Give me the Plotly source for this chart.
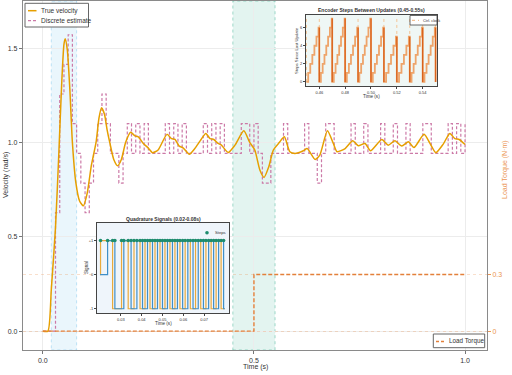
import plotly.graph_objects as go

# ---------------- data ----------------
vel_t = [0.000, 0.012, 0.020, 0.030, 0.038, 0.045, 0.050, 0.053, 0.058, 0.064,
         0.070, 0.078, 0.087, 0.096, 0.105, 0.115, 0.126, 0.133, 0.139, 0.146,
         0.152, 0.159, 0.168, 0.177, 0.186, 0.196, 0.208, 0.218, 0.226, 0.238,
         0.249, 0.260, 0.273, 0.294, 0.305, 0.313, 0.323, 0.332, 0.347, 0.360,
         0.373, 0.386, 0.396, 0.405, 0.415, 0.423, 0.439, 0.455, 0.476, 0.490,
         0.502, 0.514, 0.524, 0.535, 0.546, 0.560, 0.572, 0.585, 0.597, 0.617,
         0.626, 0.645, 0.656, 0.674, 0.688, 0.697, 0.716, 0.734, 0.747, 0.763,
         0.776, 0.803, 0.818, 0.834, 0.850, 0.866, 0.879, 0.903, 0.917, 0.931,
         0.948, 0.964, 0.976, 0.986, 1.000]
vel_v = [0.0, 0.0, 0.22, 0.55, 0.95, 1.33, 1.52, 1.55, 1.49, 1.28,
         1.00, 0.79, 0.69, 0.664, 0.73, 0.88, 1.00, 1.13, 1.184, 1.15,
         1.07, 0.995, 0.91, 0.877, 0.91, 1.00, 1.054, 1.035, 1.03, 0.995,
         0.972, 0.946, 0.96, 1.043, 1.02, 1.016, 0.981, 0.972, 0.938, 0.968,
         1.01, 1.048, 1.02, 1.016, 0.995, 0.986, 0.947, 0.986, 1.062, 1.0,
         0.96, 0.854, 0.815, 0.87, 0.96, 1.0, 1.03, 0.951, 0.942, 0.956,
         0.968, 0.91, 0.933, 1.062, 0.995, 0.951, 0.968, 1.009, 0.983, 0.995,
         0.956, 1.016, 0.986, 1.009, 0.981, 1.004, 0.973, 1.043, 0.995, 0.946,
         0.99, 1.048, 1.02, 1.016, 0.989]

# discrete estimate, one value per 10 ms control update (t = 0.00 ... 1.00)
update_period = 0.01
est_v = [0, 0, 0, 0.628, 1.257, 1.414, 1.571, 1.100, 0.942, 0.785,
         0.628, 0.785, 0.942, 1.100, 1.257, 1.100, 0.942, 0.942, 0.785, 0.942,
         1.100, 0.942, 1.100, 0.942, 1.100, 0.942, 0.942, 0.942, 0.942, 1.100,
         0.942, 1.100, 0.942, 1.100, 0.942, 0.942, 0.942, 0.942, 1.100, 0.942,
         1.100, 0.942, 1.100, 0.942, 0.942, 0.942, 0.942, 1.100, 1.100, 0.942,
         1.100, 0.942, 0.785, 0.785, 0.942, 0.942, 0.942, 1.100, 0.942, 0.942,
         0.942, 0.942, 1.100, 0.942, 0.942, 0.785, 0.942, 1.100, 1.100, 0.942,
         0.942, 0.942, 0.942, 1.100, 0.942, 0.942, 1.100, 0.942, 0.942, 0.942,
         1.100, 0.942, 0.942, 1.100, 0.942, 0.942, 1.100, 0.942, 0.942, 0.942,
         1.100, 1.100, 0.942, 0.942, 0.942, 0.942, 1.100, 0.942, 1.100, 0.942,
         1.100]

torque_t = [0.0, 0.5, 1.0]
torque_v = [0.0, 0.3, 0.3]

band_fast = [0.02, 0.08]
band_load = [0.45, 0.55]

# encoder inset (0.45 - 0.55 s)
enc_ctrl_t = [0.45, 0.46, 0.47, 0.48, 0.49, 0.50, 0.51, 0.52, 0.53, 0.54, 0.55]
enc_step_t = [0.4514, 0.4530, 0.4546, 0.4562, 0.4578, 0.4594,
              0.4612, 0.4626, 0.4640, 0.4654, 0.4668, 0.4682, 0.4696,
              0.4712, 0.4726, 0.4740, 0.4754, 0.4768, 0.4782, 0.4796,
              0.4813, 0.4829, 0.4845, 0.4861, 0.4877, 0.4893,
              0.4910, 0.4924, 0.4938, 0.4952, 0.4966, 0.4980, 0.4994,
              0.5014, 0.5030, 0.5046, 0.5062, 0.5078, 0.5094,
              0.5117, 0.5136, 0.5155, 0.5174, 0.5193,
              0.5217, 0.5236, 0.5255, 0.5274, 0.5293,
              0.5314, 0.5330, 0.5346, 0.5362, 0.5378, 0.5394,
              0.5414, 0.5430, 0.5446, 0.5462, 0.5478, 0.5494]

# quadrature inset (0.02 - 0.08 s): toggle times of channel A and B
quad_window = [0.02, 0.08]
quad_a_t = [0.0202, 0.0260, 0.0303, 0.0335, 0.0363, 0.0392, 0.0416, 0.0440, 0.0464,
            0.0488, 0.0512, 0.0536, 0.0560, 0.0584, 0.0609, 0.0634, 0.0659,
            0.0684, 0.0709, 0.0734, 0.0758, 0.0782]
quad_b_t = [0.0236, 0.0271, 0.0314, 0.0349, 0.0377, 0.0404, 0.0428, 0.0452, 0.0476,
            0.0500, 0.0524, 0.0548, 0.0572, 0.0597, 0.0622, 0.0647, 0.0672,
            0.0697, 0.0722, 0.0746, 0.0770, 0.0794]

# ---------------- style ----------------
FONT = "Liberation Sans, Arial, sans-serif"
W, H = 512, 375
ML, MR, MT, MB = 23, 25, 1, 25
PW, PH = W - ML - MR, H - MT - MB
C_TRUE = '#E69F00'
C_EST = '#CC79A7'
C_TORQ = '#E3803A'
C_TORQ_TXT = '#EB9655'
C_A = '#E9AA3C'
C_B = '#3F8FC8'
C_STEP = '#1E8C6E'


def pxx(x):
    return (x - ML) / PW


def pxy(y):
    return (H - MB - y) / PH


fig = go.Figure()

# ---- main plot ----
est_t = [round(i * update_period, 4) for i in range(len(est_v))]
fig.add_trace(go.Scatter(x=est_t, y=est_v, mode='lines', line=dict(color=C_EST, width=1.2, dash='3px,2px', shape='hv'),
                         xaxis='x', yaxis='y'))
fig.add_trace(go.Scatter(x=vel_t, y=vel_v, mode='lines', line=dict(color=C_TRUE, width=1.5, shape='spline', smoothing=0.6),
                         xaxis='x', yaxis='y'))
fig.add_trace(go.Scatter(x=torque_t, y=torque_v, mode='lines', line=dict(color=C_TORQ, width=1.4, dash='4px,2px', shape='hv'),
                         xaxis='x', yaxis='y2'))

# ---- encoder inset ----
events = sorted([(t, 1) for t in enc_step_t] + [(t, 0) for t in enc_ctrl_t])
sx, sy, dx, dy = [], [], [], []
count = 0
for t, kind in events:
    if kind == 0:
        if count > 0:
            dx += [t, t, None]
            dy += [count, 0, None]
        count = 0
    else:
        count += 1
    sx.append(t)
    sy.append(count)
cx, cy = [], []
for t in enc_ctrl_t:
    cx += [t, t, None]
    cy += [0, 7.3, None]
fig.add_trace(go.Scatter(x=cx, y=cy, mode='lines', line=dict(color='#F4C495', width=1, dash='dot'),
                         xaxis='x3', yaxis='y3'))
fig.add_trace(go.Scatter(x=sx, y=sy, mode='lines', line=dict(color='#EEA46A', width=1.8, shape='hv'),
                         xaxis='x3', yaxis='y3'))
fig.add_trace(go.Scatter(x=dx, y=dy, mode='lines', line=dict(color='#D9621C', width=1.3),
                         xaxis='x3', yaxis='y3'))


# ---- quadrature inset ----
def quad_xy(edges):
    xs, ys = [quad_window[0]], [0]
    val = 0
    for i, t in enumerate(edges):
        val = 1 if i == 0 else -val
        xs.append(t)
        ys.append(val)
    xs.append(quad_window[1])
    ys.append(val)
    return xs, ys


ax_, ay_ = quad_xy(quad_a_t)
bx_, by_ = quad_xy(quad_b_t)
fig.add_trace(go.Scatter(x=ax_, y=ay_, mode='lines', line=dict(color=C_A, width=1.2, shape='hv'),
                         xaxis='x4', yaxis='y4'))
fig.add_trace(go.Scatter(x=bx_, y=by_, mode='lines', line=dict(color=C_B, width=1.2, shape='hv'),
                         xaxis='x4', yaxis='y4'))
all_edges = sorted(quad_a_t + quad_b_t)
fig.add_trace(go.Scatter(x=all_edges, y=[1] * len(all_edges), mode='markers',
                         marker=dict(color=C_STEP, size=3.6), xaxis='x4', yaxis='y4'))

# ---- axes ----
tickfont = dict(family=FONT, size=7, color='#333')
small = dict(family=FONT, size=4, color='#333')
enc_dom_x = [pxx(306), pxx(437)]
enc_dom_y = [pxy(86), pxy(15)]
quad_dom_x = [pxx(97), pxx(229)]
quad_dom_y = [pxy(313), pxy(223)]
enc_xr = [0.4497, 0.5511]
enc_yr = [-0.45, 7.4]
quad_xr = [0.0185, 0.082]
quad_yr = [-1.124, 1.515]

fig.update_layout(
    template='none', width=W, height=H, showlegend=False, autosize=False,
    margin=dict(l=ML, r=MR, t=MT, b=MB, pad=0),
    paper_bgcolor='white', plot_bgcolor='white',
    font=dict(family=FONT, size=7, color='#333'),
    xaxis=dict(domain=[0, 1], anchor='y', range=[-0.047, 1.052], tickvals=[0, 0.5, 1.0],
               ticktext=['0.0', '0.5', '1.0'], ticks='outside', ticklen=3, tickcolor='#777',
               showline=True, mirror=True, linecolor='#8a8a8a', linewidth=1.3,
               showgrid=True, gridcolor='#ececec', gridwidth=1, zeroline=False, tickfont=tickfont),
    yaxis=dict(domain=[0, 1], anchor='x', range=[-0.1, 1.75], tickvals=[0, 0.5, 1.0, 1.5],
               ticktext=['0.0', '0.5', '1.0', '1.5'], ticks='outside', ticklen=3, tickcolor='#777',
               showline=True, mirror=True, linecolor='#8a8a8a', linewidth=1.3,
               showgrid=True, gridcolor='#ececec', gridwidth=1, zeroline=False, tickfont=tickfont),
    yaxis2=dict(overlaying='y', side='right', anchor='x', range=[-0.1, 1.75], tickvals=[0, 0.3],
                ticktext=['0', '0.3'], ticks='outside', ticklen=3, tickcolor=C_TORQ_TXT,
                tickfont=dict(family=FONT, size=7, color=C_TORQ_TXT), showline=False,
                showgrid=True, gridcolor='rgba(235,150,85,0.3)', griddash='dot', zeroline=False),
    xaxis3=dict(domain=enc_dom_x, anchor='y3', range=enc_xr, tickvals=[0.46, 0.48, 0.50, 0.52, 0.54],
                ticktext=['0.46', '0.48', '0.50', '0.52', '0.54'], ticks='outside', ticklen=2,
                tickcolor='#444', showline=True, mirror=True, linecolor='#444', linewidth=1,
                showgrid=False, zeroline=False, tickfont=small),
    yaxis3=dict(domain=enc_dom_y, anchor='x3', range=enc_yr, tickvals=[0, 2, 4, 6],
                ticks='outside', ticklen=2, tickcolor='#444', showline=True, mirror=True,
                linecolor='#444', linewidth=1, showgrid=False, zeroline=False, tickfont=small),
    xaxis4=dict(domain=quad_dom_x, anchor='y4', range=quad_xr, tickvals=[0.03, 0.04, 0.05, 0.06, 0.07],
                ticktext=['0.03', '0.04', '0.05', '0.06', '0.07'], ticks='outside', ticklen=2,
                tickcolor='#444', showline=True, mirror=True, linecolor='#444', linewidth=1,
                showgrid=False, zeroline=False, tickfont=small),
    yaxis4=dict(domain=quad_dom_y, anchor='x4', range=quad_yr, tickvals=[-1, 0, 1],
                ticktext=['-1', '0', '+1'], ticks='outside', ticklen=2, tickcolor='#444',
                showline=True, mirror=True, linecolor='#444', linewidth=1, showgrid=False,
                zeroline=False, tickfont=small),
)

shapes = []
# shaded bands on the main plot
shapes.append(dict(type='rect', xref='x', yref='y', x0=band_fast[0], x1=band_fast[1], y0=-0.1, y1=1.75,
                   fillcolor='rgba(86,180,233,0.12)', line=dict(color='rgba(86,180,233,0.35)', width=1, dash='dot'),
                   layer='below'))
shapes.append(dict(type='rect', xref='x', yref='y', x0=band_load[0], x1=band_load[1], y0=-0.1, y1=1.75,
                   fillcolor='rgba(0,158,115,0.11)', line=dict(color='rgba(0,158,115,0.35)', width=1, dash='dot'),
                   layer='below'))
# inset backgrounds
shapes.append(dict(type='rect', xref='x3', yref='y3', x0=enc_xr[0], x1=enc_xr[1], y0=enc_yr[0], y1=enc_yr[1],
                   fillcolor='#eff7f5', line=dict(width=0), layer='below'))
shapes.append(dict(type='rect', xref='x4', yref='y4', x0=quad_xr[0], x1=quad_xr[1], y0=quad_yr[0], y1=quad_yr[1],
                   fillcolor='#eff5fb', line=dict(width=0), layer='below'))
# main legend
shapes.append(dict(type='rect', xref='paper', yref='paper', x0=pxx(25), x1=pxx(88.5), y0=pxy(27), y1=pxy(3.3),
                   fillcolor='white', line=dict(color='#666', width=1), layer='above'))
shapes.append(dict(type='line', xref='paper', yref='paper', x0=pxx(28), x1=pxx(36.5), y0=pxy(10.7), y1=pxy(10.7),
                   line=dict(color=C_TRUE, width=1.5), layer='above'))
shapes.append(dict(type='line', xref='paper', yref='paper', x0=pxx(28), x1=pxx(36.5), y0=pxy(20.7), y1=pxy(20.7),
                   line=dict(color=C_EST, width=1.2, dash='3px,2px'), layer='above'))
# torque legend
shapes.append(dict(type='rect', xref='paper', yref='paper', x0=pxx(433.3), x1=pxx(484.7), y0=pxy(347.7), y1=pxy(334),
                   fillcolor='white', line=dict(color='#666', width=1), layer='above'))
shapes.append(dict(type='line', xref='paper', yref='paper', x0=pxx(436), x1=pxx(445), y0=pxy(341.5), y1=pxy(341.5),
                   line=dict(color=C_TORQ, width=1.4, dash='3px,2px'), layer='above'))
# encoder inset legend
shapes.append(dict(type='rect', xref='paper', yref='paper', x0=pxx(410), x1=pxx(437), y0=pxy(25), y1=pxy(15.5),
                   fillcolor='white', line=dict(color='#444', width=0.8), layer='above'))
shapes.append(dict(type='line', xref='paper', yref='paper', x0=pxx(412), x1=pxx(419), y0=pxy(20.3), y1=pxy(20.3),
                   line=dict(color='#F0B27A', width=1, dash='dot'), layer='above'))
# quadrature inset legend marker ("Steps")
shapes.append(dict(type='circle', xref='paper', yref='paper', x0=pxx(205.2), x1=pxx(208.8), y0=pxy(234.6),
                   y1=pxy(231.0), fillcolor=C_STEP, line=dict(width=0), layer='above'))
fig.update_layout(shapes=shapes)


def ann(text, x, y, size, color='#333', xanchor='center', yanchor='middle', angle=0):
    return dict(text=text, x=pxx(x), y=pxy(y), xref='paper', yref='paper', showarrow=False,
                xanchor=xanchor, yanchor=yanchor, textangle=angle,
                font=dict(family=FONT, size=size, color=color))


annotations = [
    ann('Time (s)', 255, 367, 7),
    ann('Velocity (rad/s)', 6, 175, 7, angle=-90),
    ann('Load Torque (N·m)', 505, 170, 7, color=C_TORQ_TXT, angle=-90),
    ann('True velocity', 38.5, 10.7, 6.5, xanchor='left'),
    ann('Discrete estimate', 38.5, 20.7, 6.5, xanchor='left'),
    ann('Load Torque', 447, 341.3, 6.3, xanchor='left'),
    ann('<b>Encoder Steps Between Updates (0.45-0.55s)</b>', 371.5, 10.5, 5),
    ann('Time (s)', 371.5, 96, 4.6),
    ann('Steps Since Last Update', 296.5, 50.5, 4.2, angle=-90),
    ann('Ctrl. clock', 420.5, 20.3, 3.9, xanchor='left'),
    ann('<b>Quadrature Signals (0.02-0.08s)</b>', 163, 219.3, 5),
    ann('Time (s)', 163, 323.5, 4.6),
    ann('Signal', 86, 268, 4.6, angle=-90),
    ann('Steps', 212.5, 232.8, 4.2, xanchor='left'),
]
fig.update_layout(annotations=annotations)

fig.write_html("out.html", config={'displayModeBar': False},
               post_script="document.body.style.margin='0';document.body.style.padding='0';")
